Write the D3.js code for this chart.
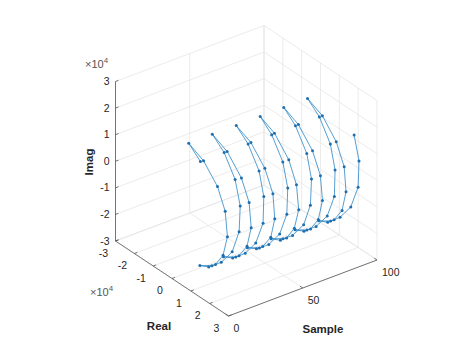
<!DOCTYPE html>
<html><head><meta charset="utf-8">
<script src="https://cdn.jsdelivr.net/npm/d3@7"></script>
<style>body{margin:0;background:#fff}svg{display:block}</style>
</head><body><svg id="c" width="474" height="355"></svg>
<script>
// ---- data ----
const sampleIdx = [1,2,3,4,5,6,7,8,9,10,11,12,13,14,15,16,17,18,19,20,21,22,23,24,25,26,27,28,29,30,31,32,33,34,35,36,37,38,39,40,41,42,43,44,45,46,47,48,49,50,51,52,53,54,55,56,57,58,59,60,61,62,63,64,65,66,67,68,69,70,71,72,73,74,75,76,77,78,79,80,81,82,83,84,85,86,87,88,89,90,91,92,93,94,95,96];
const realVals = [14300,
 7300,14400,21000,24300,24700,21600,16800,12400,6900,12500,16700,21700,24600,24400,20900,14300,
 7200,14300,21100,24400,24700,21700,16700,12500,6800,12600,16800,21600,24700,24300,21000,14400,
 7300,14300,20900,24400,24600,21700,16600,12500,6900,12500,16700,21700,24700,24400,21000,14300,
 7400,14200,21000,24300,24700,21600,16700,12600,6900,12400,16700,21800,24600,24400,21100,14300,
 7300,14300,21000,24400,24700,21700,16800,12500,7000,12500,16600,21700,24700,24300,21000,14400,
 7300,14400,21000,24400,24600,21700,16700,12500,6900,12500,16700,21600,24700,24400,21000];
const imagVals = [20500,
 23900,20400,13600,5700,-3900,-12600,-18500,-21700,-24000,-21600,-18600,-12500,-3800,5600,13700,20500,
 23900,20500,13500,5600,-3900,-12500,-18600,-21700,-24100,-21700,-18500,-12600,-3900,5700,13600,20400,
 23800,20500,13700,5600,-4000,-12500,-18600,-21600,-24000,-21700,-18600,-12500,-3900,5600,13600,20500,
 23900,20600,13600,5500,-3900,-12500,-18700,-21700,-24000,-21600,-18600,-12400,-3900,5600,13500,20500,
 23900,20500,13600,5600,-3800,-12600,-18600,-21700,-24000,-21700,-18600,-12500,-4000,5600,13600,20500,
 23900,20500,13600,5600,-3900,-12500,-18600,-21700,-24000,-21700,-18500,-12500,-3900,5700,13600];
const sampleTicks = [0,50,100];
const realTicks = [-30000,-20000,-10000,0,10000,20000,30000];
const imagTicks = [-30000,-20000,-10000,0,10000,20000,30000];
const sampleDomain = [0,100], realDomain = [-30000,30000], imagDomain = [-30000,30000];

// ---- projection ----
const svg = d3.select('#c');
const sx = d3.scaleLinear().domain(sampleDomain).range([0,1]);
const ry = d3.scaleLinear().domain(realDomain).range([0,1]);
const iz = d3.scaleLinear().domain(imagDomain).range([0,1]);
const O=[115.5,241], VR=[113,75], VS=[148.5,-56], VZ=[0,-159.5];
function P(s,r,i){const a=sx(s),b=ry(r),c=iz(i);
  return [O[0]+a*VS[0]+b*VR[0]+c*VZ[0], O[1]+a*VS[1]+b*VR[1]+c*VZ[1]];}
const rMin=realDomain[0], rMax=realDomain[1], iMin=imagDomain[0], iMax=imagDomain[1], sMin=sampleDomain[0], sMax=sampleDomain[1];

const grid = svg.append('g').attr('stroke','#e2e2e2').attr('stroke-width',0.7).attr('fill','none');
function seg(g,a,b){g.append('line').attr('x1',a[0]).attr('y1',a[1]).attr('x2',b[0]).attr('y2',b[1]);}
// floor
realTicks.forEach(r=>seg(grid,P(sMin,r,iMin),P(sMax,r,iMin)));
sampleTicks.forEach(s=>seg(grid,P(s,rMin,iMin),P(s,rMax,iMin)));
// back-left wall (real = min)
sampleTicks.forEach(s=>seg(grid,P(s,rMin,iMin),P(s,rMin,iMax)));
imagTicks.forEach(i=>seg(grid,P(sMin,rMin,i),P(sMax,rMin,i)));
// back-right wall (sample = max)
realTicks.forEach(r=>seg(grid,P(sMax,r,iMin),P(sMax,r,iMax)));
imagTicks.forEach(i=>seg(grid,P(sMax,rMin,i),P(sMax,rMax,i)));

// axes
const ax = svg.append('g').attr('stroke','#555').attr('stroke-width',0.8).attr('fill','none');
seg(ax,P(sMin,rMin,iMin),P(sMin,rMin,iMax));
seg(ax,P(sMin,rMin,iMin),P(sMin,rMax,iMin));
seg(ax,P(sMin,rMax,iMin),P(sMax,rMax,iMin));
imagTicks.forEach(i=>seg(ax,P(sMin,rMin,i),P(sMin+2,rMin,i)));
realTicks.forEach(r=>seg(ax,P(sMin,r,iMin),P(sMin+2,r,iMin)));
sampleTicks.forEach(s=>seg(ax,P(s,rMax,iMin),P(s,rMax-1500,iMin)));

const font = '"Liberation Sans", Arial, Helvetica, sans-serif';
const txt = svg.append('g').attr('font-family',font).attr('font-size',10.5).attr('fill','#262626');
imagTicks.forEach(i=>{const p=P(sMin,rMin,i);
  txt.append('text').attr('x',p[0]-6).attr('y',p[1]+3.5).attr('text-anchor','end').text(String(i/1e4));});
realTicks.forEach(r=>{const p=P(sMin,r,iMin);
  txt.append('text').attr('x',p[0]-12).attr('y',p[1]+15.5).attr('text-anchor','middle').text(String(r/1e4));});
sampleTicks.forEach(s=>{const p=P(s,rMax,iMin);
  txt.append('text').attr('x',p[0]+5).attr('y',p[1]+16).attr('text-anchor','start').text(String(s));});
// exponents
function expo(x,y){const t=txt.append('text').attr('x',x).attr('y',y).attr('font-size',11).attr('fill','#555');
  t.append('tspan').text('\u00d710'); t.append('tspan').attr('dy',-5).attr('font-size',8).text('4');}
expo(85,68); expo(90,296);

// axis labels
const lab = svg.append('g').attr('font-family',font).attr('font-size',11.5).attr('font-weight','bold').attr('fill','#262626').attr('text-anchor','middle');
lab.append('text').attr('transform','translate(93,162) rotate(-90)').text('Imag');
lab.append('text').attr('x',159).attr('y',330).text('Real');
lab.append('text').attr('x',323).attr('y',333).text('Sample');

// data
const pts = sampleIdx.map((s,k)=>P(s,realVals[k],imagVals[k]));
svg.append('path').attr('d',d3.line()(pts)).attr('fill','none').attr('stroke','#2a86c8').attr('stroke-width',0.8);
svg.append('g').attr('fill','#1f6fae').selectAll('circle').data(pts).join('circle')
  .attr('cx',d=>d[0]).attr('cy',d=>d[1]).attr('r',1.5);
</script></body></html>
